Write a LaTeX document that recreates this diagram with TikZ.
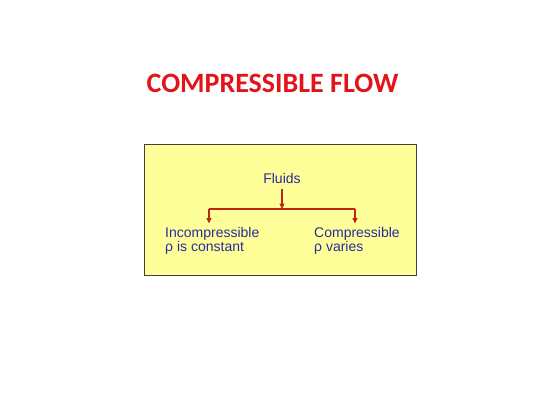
\documentclass[tikz,border=0pt]{standalone}
\usepackage{fontspec}
\setmainfont{Liberation Sans}
\newfontfamily\titlefont{Carlito}
\usetikzlibrary{arrows.meta}
\definecolor{titlered}{RGB}{226,20,26}
\definecolor{boxyellow}{RGB}{255,255,153}
\definecolor{navy}{RGB}{42,42,155}
\definecolor{arrred}{RGB}{185,40,20}
\tikzset{
  lbl/.style={text=navy, font=\fontsize{14}{12.5}\selectfont, inner sep=0pt, align=left},
  arr/.style={draw=arrred, line width=1.3pt, -{Triangle[length=5.5pt,width=5pt]}},
  bar/.style={draw=arrred, line width=1.3pt}
}
\begin{document}
\begin{tikzpicture}[x=1pt,y=-1pt]
\useasboundingbox (0,0) rectangle (560,420);
\node[text=titlered, font=\titlefont\bfseries\fontsize{28}{30}\selectfont, anchor=base, inner sep=0pt] (title) at (272.5,92.5) {COMPRESSIBLE FLOW};
\draw[fill=boxyellow, draw=black!75, line width=0.9pt] (144.5,144) rectangle (416,275.5);
\node[lbl, anchor=base] (fluids) at (282,183.5) {Fluids};
\node[lbl, anchor=north west] (inc) at (165,227) {Incompressible\\ρ is constant};
\node[lbl, anchor=north west] (comp) at (314,227) {Compressible\\ρ varies};
\coordinate (mid) at (282,209);
\coordinate (bl) at (209,209);
\coordinate (br) at (355,209);
\coordinate (el) at (209,223.5);
\coordinate (er) at (355,223.5);
\draw[arr] (fluids.south |- 0,188.5) -- (mid);
\draw[bar] (bl) -- (br);
\draw[arr] (bl) -- (el);
\draw[arr] (br) -- (er);
\end{tikzpicture}
\end{document}
